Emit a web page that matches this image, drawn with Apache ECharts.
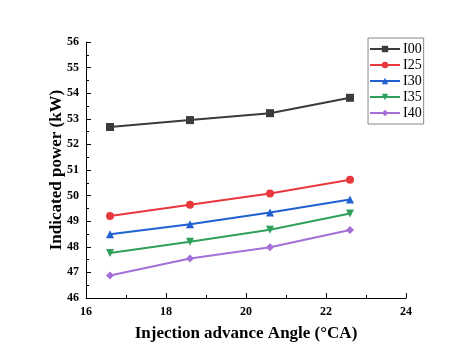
<!DOCTYPE html>
<html><head><meta charset="utf-8">
<script src="https://cdn.jsdelivr.net/npm/echarts@6/dist/echarts.min.js"></script>
<style>html,body{margin:0;padding:0;background:#fff}#c{width:474px;height:363px}</style>
</head><body><div id="c"></div>
<script>
const angles = [16.6, 18.6, 20.6, 22.6];
const names = ['I00', 'I25', 'I30', 'I35', 'I40'];
const I00 = [52.68, 52.95, 53.22, 53.82];
const I25 = [49.2, 49.64, 50.08, 50.62];
const I30 = [48.49, 48.88, 49.34, 49.85];
const I35 = [47.76, 48.2, 48.67, 49.3];
const I40 = [46.88, 47.54, 47.98, 48.66];
const values = [I00, I25, I30, I35, I40];
const colors = ['#3b3b3b', '#e8383d', '#2160d0', '#2ea05a', '#a56fd8'];
const symbols = ['rect', 'circle', 'triangle', 'triangle', 'diamond'];
const rot = [0, 0, 0, 180, 0];
const font = '"Liberation Serif","Times New Roman",serif';
const chart = echarts.init(document.getElementById('c'));
chart.setOption({
  animation: false,
  grid: {left: 86, right: 68, top: 42, bottom: 65},
  legend: {
    orient: 'vertical', left: 368, top: 38, itemWidth: 30, itemHeight: 8, itemGap: 2,
    padding: [4, 2, 4, 1], borderColor: '#888', borderWidth: 1,
    textStyle: {fontFamily: font, fontSize: 14, lineHeight: 14, color: '#000', padding: [0, 0, 0, -2]},
    data: names
  },
  xAxis: {
    type: 'value', min: 16, max: 24, interval: 2,
    name: 'Injection advance Angle (°CA)', nameLocation: 'middle', nameGap: 27,
    nameMoveOverlap: false,
    nameTextStyle: {fontFamily: font, fontSize: 17, fontWeight: 'bold', color: '#000'},
    axisLine: {show: true, lineStyle: {color: '#000', width: 1}},
    axisTick: {show: true, inside: true, length: 5, lineStyle: {color: '#000'}},
    minorTick: {show: true, splitNumber: 2, length: 3, lineStyle: {color: '#000'}},
    axisLabel: {fontFamily: font, fontSize: 12, fontWeight: 'bold', color: '#000', margin: 8},
    splitLine: {show: false}
  },
  yAxis: {
    type: 'value', min: 46, max: 56, interval: 1,
    name: 'Indicated power (kW)', nameLocation: 'middle', nameGap: 21,
    nameMoveOverlap: false,
    nameTextStyle: {fontFamily: font, fontSize: 17, fontWeight: 'bold', color: '#000'},
    axisLine: {show: true, lineStyle: {color: '#000', width: 1}},
    axisTick: {show: true, inside: true, length: 5, lineStyle: {color: '#000'}},
    minorTick: {show: true, splitNumber: 2, length: 3, lineStyle: {color: '#000'}},
    axisLabel: {fontFamily: font, fontSize: 12, fontWeight: 'bold', color: '#000', margin: 7},
    splitLine: {show: false}
  },
  series: names.map((n, i) => ({
    name: n, type: 'line',
    data: angles.map((a, j) => [a, values[i][j]]),
    symbol: symbols[i], symbolRotate: rot[i], symbolSize: 8,
    color: colors[i],
    lineStyle: {width: 2, color: colors[i]},
    itemStyle: {color: colors[i]}
  }))
});
</script></body></html>
